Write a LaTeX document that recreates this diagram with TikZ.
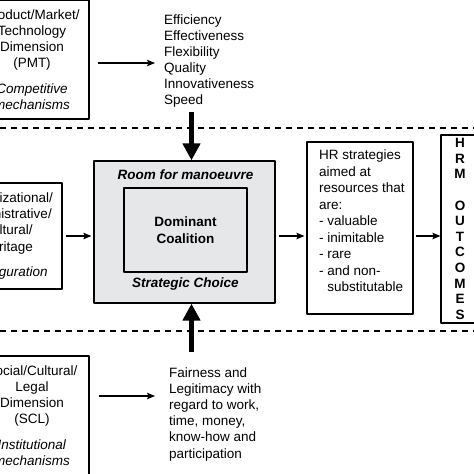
\documentclass[tikz,border=0pt]{standalone}
\usepackage{fontspec}
\setmainfont{Liberation Sans}
\usetikzlibrary{arrows.meta}
\definecolor{roomgray}{RGB}{229,231,232}
\begin{document}
\fontsize{13.5}{16.3}\selectfont
\begin{tikzpicture}[x=1pt,y=-1pt,line join=round,
  box/.style={draw,line width=1.2pt,inner sep=0pt,align=center},
  list/.style={anchor=north west,inner sep=0pt,align=left},
  thin/.style={-{Stealth[length=8pt,width=6.5pt,inset=1.5pt]},line width=1.2pt},
  fat/.style={-{Triangle[length=17pt,width=17pt]},line width=5pt},
  sep/.style={line width=2.6pt,dash pattern=on 6pt off 5pt}]
\path[use as bounding box,clip] (0,0) rectangle (474,474);

% left column
\node[box,minimum width=114pt,minimum height=119pt] (pmt) at (32,59.5)
  {Product/Market/\\Technology\\Dimension\\(PMT)\\[9pt]\textit{Competitive}\\\textit{mechanisms}};
\node[box,minimum width=109pt,minimum height=106pt] (config) at (7.5,236)
  {Organizational/\\Administrative/\\Cultural/\\Heritage\\[9pt]\textit{Configuration}};
\node[box,minimum width=114pt,minimum height=119pt] (scl) at (32,415.5)
  {Social/Cultural/\\Legal\\Dimension\\(SCL)\\[9pt]\textit{Institutional}\\\textit{mechanisms}};

% centre
\node[box,fill=roomgray,minimum width=181pt,minimum height=142pt] (room) at (184.5,232) {};
\node[box,fill=roomgray,minimum width=123pt,minimum height=84pt,font=\bfseries\fontsize{13.5}{17}\selectfont] (coal) at (185.5,230) {Dominant\\Coalition};
\node[anchor=base,font=\bfseries\itshape] (rfm) at (185.5,179.5) {Room for manoeuvre};
\node[anchor=base,font=\bfseries\itshape] (choice) at (185.5,287.5) {Strategic Choice};

% right column
\node[box,minimum width=106pt,minimum height=172pt] (hr) at (360,228) {};
\node[list,font=\fontsize{13.5}{16.5}\selectfont] (hrtxt) at (319,149.8)
  {HR strategies\\aimed at\\resources that\\are:\\- valuable\\- inimitable\\- rare\\- and non-\\\phantom{-}\ substitutable};
\node[box,minimum width=38pt,minimum height=188pt,font=\bfseries\fontsize{13.5}{15.6}\selectfont] (hrm) at (460,229)
  {H\\R\\M\\[15.6pt]O\\U\\T\\C\\O\\M\\E\\S};

% lists
\node[list,font=\fontsize{13.5}{16}\selectfont] (goals) at (164,14.2)
  {Efficiency\\Effectiveness\\Flexibility\\Quality\\Innovativeness\\Speed};
\node[list,font=\fontsize{13.5}{16.2}\selectfont] (fair) at (169,367.2)
  {Fairness and\\Legitimacy with\\regard to work,\\time, money,\\know-how and\\participation};

% dividers
\draw[sep] (0,128) -- (474,128);
\draw[sep] (0,331) -- (474,331);

% connectors
\draw[thin,shorten <=8pt,shorten >=9pt] ([yshift=-3.5pt]pmt.east) -- ([yshift=-3.5pt]pmt.east -| goals.west);
\draw[thin,shorten <=9pt,shorten >=14pt] ([yshift=19.5pt]scl.east) -- ([yshift=19.5pt]scl.east -| fair.west);
\draw[thin,shorten <=3pt,shorten >=2pt] (config.east) -- (config.east -| room.west);
\draw[thin,shorten <=3pt,shorten >=2pt] ([yshift=-4pt]room.east) -- ([yshift=-4pt]room.east -| hr.west);
\draw[thin,shorten <=2pt] ([yshift=-8pt]hr.east) -- ([yshift=-8pt]hr.east -| hrm.west);
\draw[fat,shorten <=5pt] ([xshift=7pt]room.north |- goals.south) -- ([xshift=7pt]room.north);
\draw[fat,shorten <=15pt] ([xshift=7pt]room.south |- fair.north) -- ([xshift=7pt]room.south);
\end{tikzpicture}
\end{document}
